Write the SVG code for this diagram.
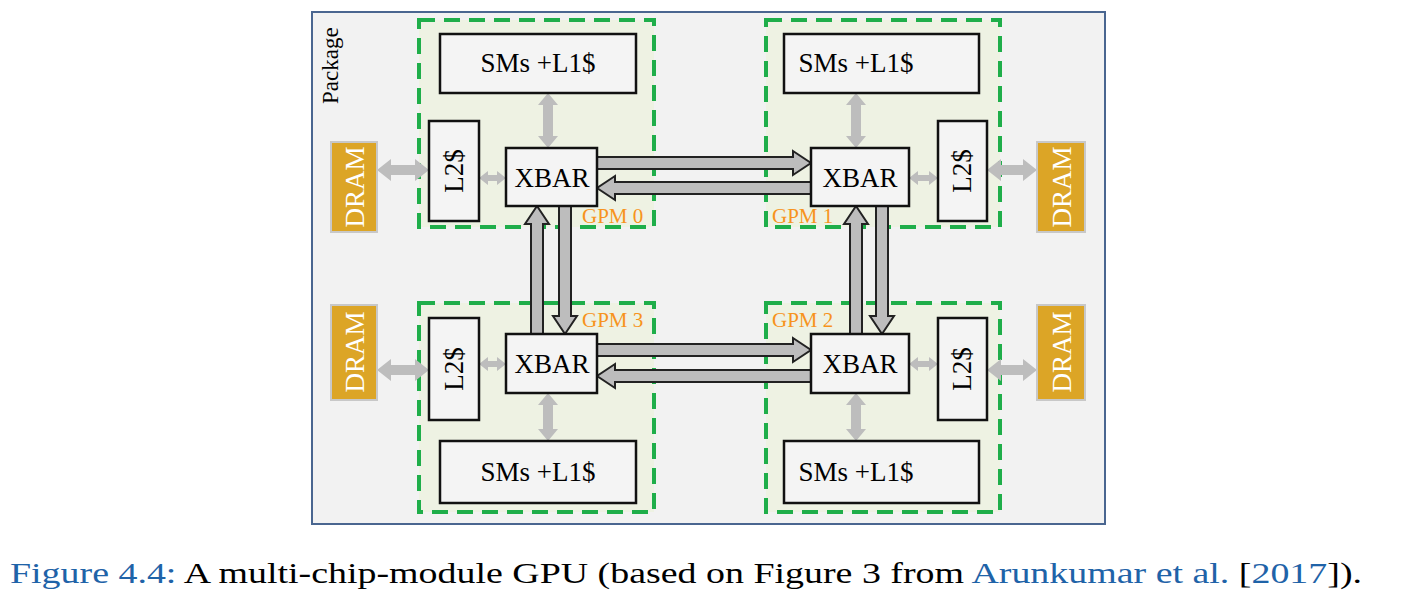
<svg xmlns="http://www.w3.org/2000/svg" width="1414" height="608" viewBox="0 0 1414 608">
<style>
text{font-family:"Liberation Serif",serif}
.gpm{fill:#eef2e3;stroke:#1fae4a;stroke-width:4;stroke-dasharray:16,9}
.box{fill:#f4f4f4;stroke:#111;stroke-width:2.5}
.lbl{font-size:27px;text-anchor:middle;dominant-baseline:central}
.dram{fill:#dca526;stroke:#c8c8c8;stroke-width:2}
.dl{font-size:27px;fill:#fff;text-anchor:middle;dominant-baseline:central}
.big{fill:#bdbdbd;stroke:#222;stroke-width:2}
.sm{fill:#bdbdbd}
.g{fill:#f7941d;font-size:21px}
</style>
<rect x="312" y="12" width="793" height="512" fill="#f2f2f2" stroke="#4a6690" stroke-width="2"/>
<text transform="translate(338,104) rotate(-90)" font-size="23">Package</text>
<g id="gpm0"><rect class="gpm" x="419" y="20" width="235" height="207"/><text class="g" x="582" y="223">GPM 0</text></g>
<g id="gpm1"><rect class="gpm" x="766" y="20" width="234" height="207"/><text class="g" x="772" y="223">GPM 1</text></g>
<g id="gpm3"><rect class="gpm" x="419" y="303" width="235" height="209"/><text class="g" x="582" y="327">GPM 3</text></g>
<g id="gpm2"><rect class="gpm" x="766" y="303" width="234" height="209"/><text class="g" x="772" y="327">GPM 2</text></g>
<g id="connectors">
<path class="sm" d="M548,93 l10,12 h-5 v31 h5 l-10,12 l-10,-12 h5 v-31 h-5z"/>
<path class="sm" d="M856,93 l10,12 h-5 v31 h5 l-10,12 l-10,-12 h5 v-31 h-5z"/>
<path class="sm" d="M548,393 l10,12 h-5 v24 h5 l-10,12 l-10,-12 h5 v-24 h-5z"/>
<path class="sm" d="M856,393 l10,12 h-5 v24 h5 l-10,12 l-10,-12 h5 v-24 h-5z"/>
<path class="sm" d="M479,178 l9,-7 v4 h9 v-4 l9,7 l-9,7 v-4 h-9 v4z"/>
<path class="sm" d="M909,178 l9,-7 v4 h11 v-4 l9,7 l-9,7 v-4 h-11 v4z"/>
<path class="sm" d="M479,364 l9,-7 v4 h9 v-4 l9,7 l-9,7 v-4 h-9 v4z"/>
<path class="sm" d="M909,364 l9,-7 v4 h11 v-4 l9,7 l-9,7 v-4 h-11 v4z"/>
<path class="sm" d="M377,170 l14,-11 v6 h24 v-6 l14,11 l-14,11 v-6 h-24 v6z"/>
<path class="sm" d="M987,170 l14,-11 v6 h22 v-6 l14,11 l-14,11 v-6 h-22 v6z"/>
<path class="sm" d="M377,370 l14,-11 v6 h24 v-6 l14,11 l-14,11 v-6 h-24 v6z"/>
<path class="sm" d="M987,370 l14,-11 v6 h22 v-6 l14,11 l-14,11 v-6 h-22 v6z"/>
<path class="big" d="M597,157 h196 v-6 l18,12 l-18,12 v-6 h-196z"/>
<path class="big" d="M811,182 h-196 v-6 l-18,12 l18,12 v-6 h196z"/>
<path class="big" d="M597,344 h196 v-6 l18,12 l-18,12 v-6 h-196z"/>
<path class="big" d="M811,370 h-196 v-6 l-18,12 l18,12 v-6 h196z"/>
<path class="big" d="M531,334 v-110 h-6 l12,-18 l12,18 h-6 v110z"/>
<path class="big" d="M559,206 v110 h-6 l12,18 l12,-18 h-6 v-110z"/>
<path class="big" d="M850,334 v-110 h-6 l12,-18 l12,18 h-6 v110z"/>
<path class="big" d="M876,206 v110 h-6 l12,18 l12,-18 h-6 v-110z"/>
</g>
<g id="sm0"><rect class="box" x="440" y="34" width="196" height="59"/><text class="lbl" x="538" y="63">SMs +L1$</text></g>
<g id="sm1"><rect class="box" x="784" y="34" width="195" height="59"/><text class="lbl" x="856" y="63">SMs +L1$</text></g>
<g id="sm3"><rect class="box" x="440" y="441" width="196" height="62"/><text class="lbl" x="538" y="472">SMs +L1$</text></g>
<g id="sm2"><rect class="box" x="784" y="441" width="195" height="62"/><text class="lbl" x="856" y="472">SMs +L1$</text></g>
<g id="x0"><rect class="box" x="506" y="148" width="91" height="58"/><text class="lbl" x="552" y="178">XBAR</text></g>
<g id="x1"><rect class="box" x="811" y="148" width="98" height="58"/><text class="lbl" x="860" y="178">XBAR</text></g>
<g id="x3"><rect class="box" x="506" y="334" width="91" height="59"/><text class="lbl" x="552" y="364">XBAR</text></g>
<g id="x2"><rect class="box" x="811" y="334" width="98" height="59"/><text class="lbl" x="860" y="364">XBAR</text></g>
<g id="l20"><rect class="box" x="429" y="121" width="50" height="100"/><text class="lbl" transform="translate(454,171) rotate(-90)">L2$</text></g>
<g id="l21"><rect class="box" x="938" y="121" width="49" height="100"/><text class="lbl" transform="translate(962,171) rotate(-90)">L2$</text></g>
<g id="l23"><rect class="box" x="429" y="318" width="50" height="102"/><text class="lbl" transform="translate(454,369) rotate(-90)">L2$</text></g>
<g id="l22"><rect class="box" x="938" y="318" width="49" height="102"/><text class="lbl" transform="translate(962,369) rotate(-90)">L2$</text></g>
<g id="d0"><rect class="dram" x="331" y="142" width="46" height="90"/><text class="dl" transform="translate(355,187) rotate(-90)">DRAM</text></g>
<g id="d1"><rect class="dram" x="1037" y="142" width="48" height="90"/><text class="dl" transform="translate(1062,187) rotate(-90)">DRAM</text></g>
<g id="d3"><rect class="dram" x="331" y="305" width="46" height="95"/><text class="dl" transform="translate(355,352) rotate(-90)">DRAM</text></g>
<g id="d2"><rect class="dram" x="1037" y="305" width="48" height="95"/><text class="dl" transform="translate(1062,352) rotate(-90)">DRAM</text></g>
<text x="10" y="583" font-size="30" textLength="1352" lengthAdjust="spacingAndGlyphs"><tspan fill="#1f63a8">Figure 4.4:</tspan> A multi-chip-module GPU (based on Figure 3 from <tspan fill="#1f63a8">Arunkumar et al.</tspan> [<tspan fill="#1f63a8">2017</tspan>]).</text>
</svg>
